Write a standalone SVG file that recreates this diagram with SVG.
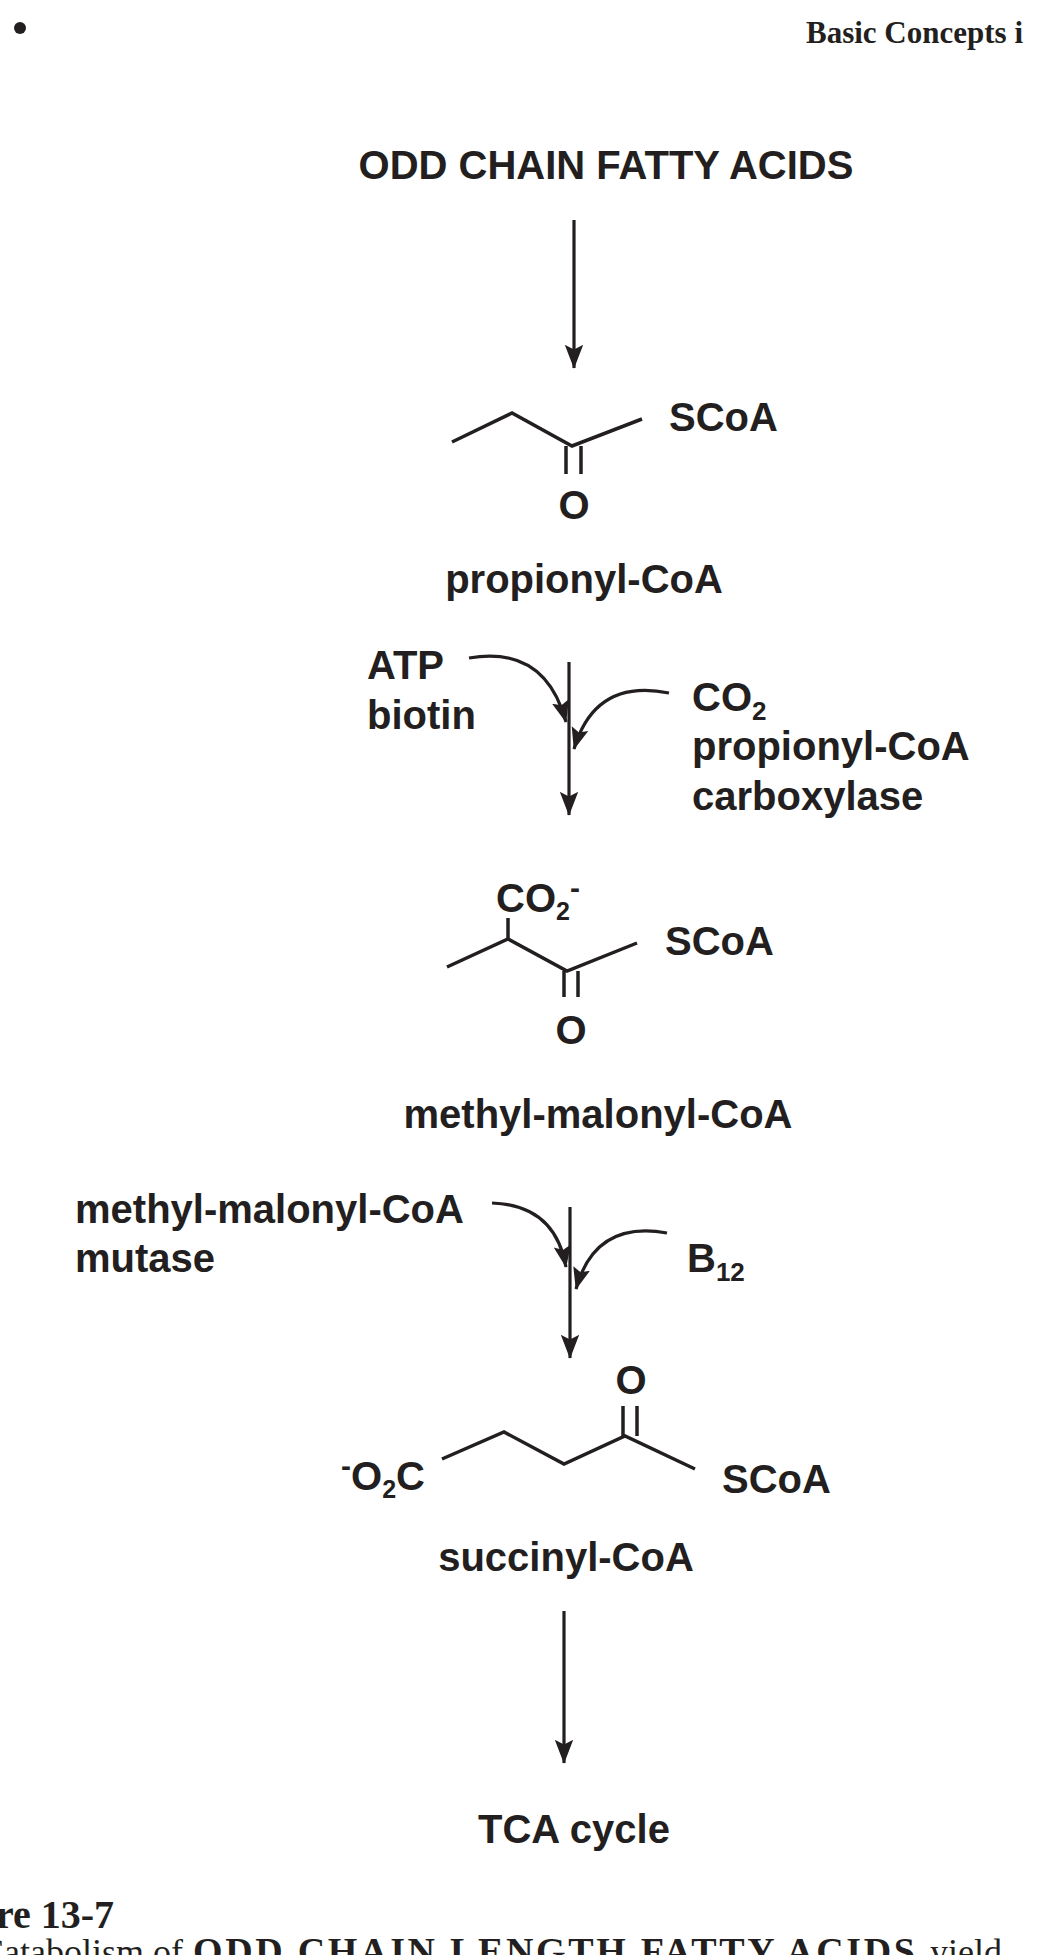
<svg xmlns="http://www.w3.org/2000/svg" width="1043" height="1955" viewBox="0 0 1043 1955">
<style>
.t{font-family:"Liberation Sans",Arial,sans-serif;font-weight:bold;font-size:40px;fill:#231f20}
.s{font-family:"Liberation Serif","Times New Roman",serif;font-weight:bold;fill:#231f20}
.r{font-family:"Liberation Serif","Times New Roman",serif;fill:#231f20}
.b{stroke:#231f20;stroke-width:3.5;fill:none}
.c{stroke:#231f20;stroke-width:3.2;fill:none}
</style>
<defs>
<marker id="ah" markerUnits="userSpaceOnUse" markerWidth="24" markerHeight="32" refX="29" refY="11.5" viewBox="0 0 30 23" orient="auto">
<path d="M0,0 L30,11.5 L0,23 L6,11.5 Z" fill="#231f20"/>
</marker>
<marker id="ah2" markerUnits="userSpaceOnUse" markerWidth="22" markerHeight="30" refX="27" refY="11" viewBox="0 0 28 22" orient="auto">
<path d="M0,0 L28,11 L0,22 L5,11 Z" fill="#231f20"/>
</marker>
</defs>
<rect width="1043" height="1955" fill="#fff"/>
<g id="header">
<circle cx="20" cy="28" r="6" fill="#231f20"/>
<text class="s" x="806" y="43" font-size="31">Basic Concepts i</text>
</g>
<g id="title"><text class="t" x="606" y="179" text-anchor="middle">ODD CHAIN FATTY ACIDS</text></g>
<g id="propionyl">
<polyline class="b" points="452,442 512,413 572,446 642,419"/>
<line class="b" x1="566" y1="446" x2="566" y2="474"/>
<line class="b" x1="581" y1="446" x2="581" y2="474"/>
<text class="t" x="574" y="519" text-anchor="middle" font-size="36">O</text>
<text class="t" x="669" y="431" font-size="38">SCoA</text>
<text class="t" x="584" y="593" text-anchor="middle">propionyl-CoA</text>
</g>
<g id="step1labels">
<text class="t" x="367" y="679" font-size="38">ATP</text>
<text class="t" x="367" y="729" font-size="38">biotin</text>
<text class="t" x="692" y="711" font-size="38">CO<tspan font-size="26" dy="9">2</tspan></text>
<text class="t" x="692" y="760" font-size="38">propionyl-CoA</text>
<text class="t" x="692" y="810" font-size="38">carboxylase</text>
</g>
<g id="methylmalonyl">
<polyline class="b" points="447,967 508,939 567,971 637,943"/>
<line class="b" x1="508" y1="939" x2="508" y2="918"/>
<line class="b" x1="564" y1="971" x2="564" y2="997"/>
<line class="b" x1="578" y1="971" x2="578" y2="997"/>
<text class="t" x="496" y="912" font-size="36">CO<tspan font-size="25" dy="8">2</tspan><tspan font-size="30" dy="-22">-</tspan></text>
<text class="t" x="571" y="1044" text-anchor="middle" font-size="36">O</text>
<text class="t" x="665" y="955" font-size="38">SCoA</text>
<text class="t" x="598" y="1128" text-anchor="middle">methyl-malonyl-CoA</text>
</g>
<g id="step2labels">
<text class="t" x="75" y="1223" font-size="38">methyl-malonyl-CoA</text>
<text class="t" x="75" y="1272" font-size="38">mutase</text>
<text class="t" x="687" y="1272" font-size="38">B<tspan font-size="26" dy="9">12</tspan></text>
</g>
<g id="succinyl">
<polyline class="b" points="442,1459 504,1432 564,1464 625,1436 695,1469"/>
<line class="b" x1="623" y1="1436" x2="623" y2="1406"/>
<line class="b" x1="637" y1="1436" x2="637" y2="1406"/>
<text class="t" x="631" y="1394" text-anchor="middle" font-size="36">O</text>
<text class="t" x="341" y="1490" font-size="36"><tspan font-size="30" dy="-14">-</tspan><tspan dy="14">O</tspan><tspan font-size="25" dy="8">2</tspan><tspan dy="-8">C</tspan></text>
<text class="t" x="722" y="1493" font-size="38">SCoA</text>
<text class="t" x="566" y="1571" text-anchor="middle">succinyl-CoA</text>
</g>
<g id="tca"><text class="t" x="574" y="1843" text-anchor="middle">TCA cycle</text></g>
<g id="caption">
<text class="s" x="-4" y="1928" font-size="40">re 13-7</text>
<text class="r" x="183" y="1964" font-size="36" text-anchor="end">Catabolism of</text>
<text class="s" x="193" y="1964" font-size="38" textLength="722" lengthAdjust="spacing">ODD CHAIN LENGTH FATTY ACIDS</text>
<text class="r" x="930" y="1964" font-size="36">yield</text>
</g>
<g id="connectors">
<line class="c" x1="574" y1="220" x2="574" y2="368" marker-end="url(#ah)"/>
<line class="c" x1="569" y1="662" x2="569" y2="815" marker-end="url(#ah)"/>
<path class="c" d="M469,658 Q545,645 566,722" marker-end="url(#ah2)"/>
<path class="c" d="M669,693 Q595,678 574,749" marker-end="url(#ah2)"/>
<line class="c" x1="570" y1="1207" x2="570" y2="1358" marker-end="url(#ah)"/>
<path class="c" d="M492,1203 Q555,1205 566,1267" marker-end="url(#ah2)"/>
<path class="c" d="M667,1233 Q595,1220 576,1289" marker-end="url(#ah2)"/>
<line class="c" x1="564" y1="1611" x2="564" y2="1763" marker-end="url(#ah)"/>
</g>
</svg>
